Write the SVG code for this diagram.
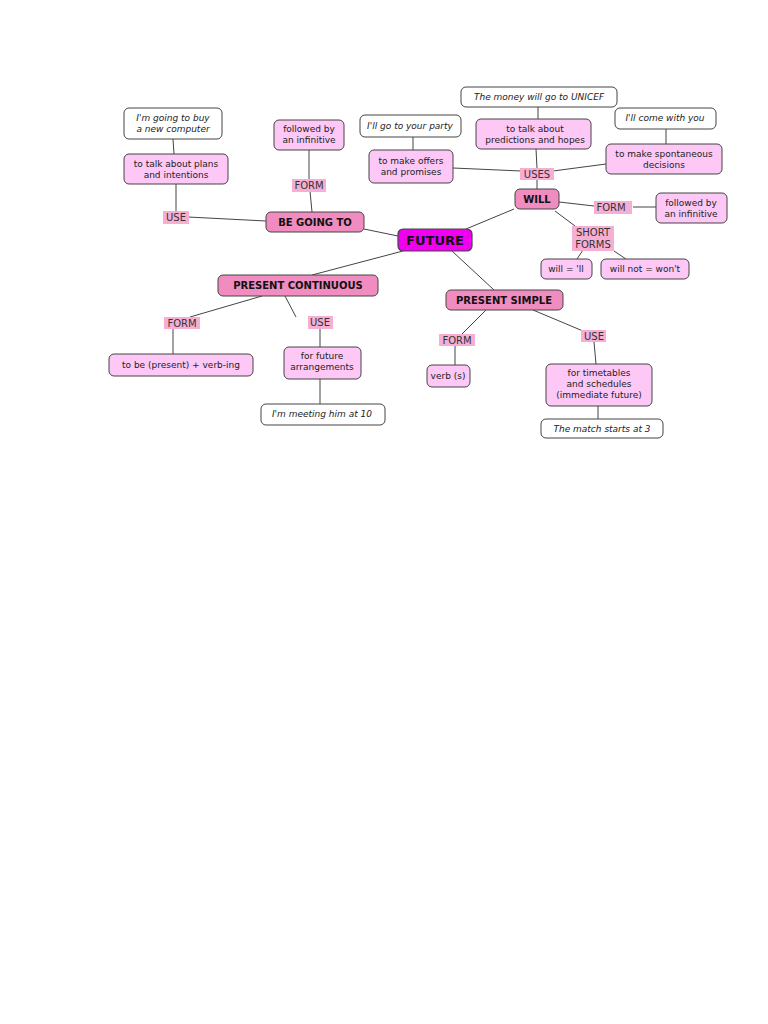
<svg xmlns="http://www.w3.org/2000/svg" width="768" height="1024" viewBox="0 0 768 1024">
<style>
text{font-family:"DejaVu Sans",Verdana,sans-serif;font-size:9px;fill:#222;text-anchor:middle}
.w{fill:#fff;stroke:#444;stroke-width:1}
.p{fill:#fdc8f6;stroke:#444;stroke-width:1}
.m{fill:#f08cc0;stroke:#444;stroke-width:1}
.f{fill:#f000f0;stroke:#444;stroke-width:1.2}
.l{fill:#f7aed3}
.i{font-style:italic}
.b{font-weight:bold;font-size:10px;fill:#111}
.lt{font-size:10px;fill:#333}
#c line{stroke:#444;stroke-width:1}
</style>
<rect width="768" height="1024" fill="#fff"/>
<g id="c">
<line x1="173" y1="139" x2="174" y2="154"/>
<line x1="176" y1="184" x2="176" y2="211"/>
<line x1="188" y1="217" x2="266" y2="221"/>
<line x1="309" y1="150" x2="309" y2="180"/>
<line x1="310" y1="191" x2="312" y2="212"/>
<line x1="364" y1="229" x2="398" y2="236"/>
<line x1="413" y1="137" x2="413" y2="150"/>
<line x1="453" y1="168" x2="521" y2="171"/>
<line x1="538" y1="107" x2="538" y2="119"/>
<line x1="536" y1="149" x2="537" y2="168"/>
<line x1="666" y1="129" x2="666" y2="144"/>
<line x1="553" y1="171" x2="606" y2="164"/>
<line x1="537" y1="180" x2="537" y2="189"/>
<line x1="466" y1="229" x2="514" y2="209"/>
<line x1="559" y1="202" x2="594" y2="206"/>
<line x1="633" y1="207" x2="656" y2="207"/>
<line x1="555" y1="211" x2="575" y2="226"/>
<line x1="583" y1="250" x2="577" y2="259"/>
<line x1="614" y1="251" x2="626" y2="259"/>
<line x1="403" y1="251" x2="312" y2="275"/>
<line x1="452" y1="251" x2="494" y2="290"/>
<line x1="262" y1="296" x2="190" y2="317"/>
<line x1="285" y1="296" x2="296" y2="317"/>
<line x1="173" y1="329" x2="173" y2="354"/>
<line x1="320" y1="329" x2="320" y2="347"/>
<line x1="320" y1="379" x2="320" y2="404"/>
<line x1="486" y1="310" x2="462" y2="334"/>
<line x1="533" y1="310" x2="583" y2="331"/>
<line x1="455" y1="346" x2="455" y2="365"/>
<line x1="594" y1="342" x2="596" y2="364"/>
<line x1="598" y1="406" x2="598" y2="419"/>
</g>
<g id="n1"><rect class="w" x="124" y="108" width="98" height="31" rx="5"/><text class="i" x="173" y="121">I'm going to buy</text><text class="i" x="173" y="132">a new computer</text></g>
<g id="n2"><rect class="p" x="124" y="154" width="104" height="30" rx="5"/><text x="176" y="167">to talk about plans</text><text x="176" y="178">and intentions</text></g>
<g id="l1"><rect class="l" x="163" y="211" width="26" height="13"/><text class="lt" x="176" y="221">USE</text></g>
<g id="n3"><rect class="p" x="274" y="120" width="70" height="30" rx="5"/><text x="309" y="132">followed by</text><text x="309" y="143">an infinitive</text></g>
<g id="l2"><rect class="l" x="292" y="179" width="34" height="13"/><text class="lt" x="309" y="189">FORM</text></g>
<g id="n4"><rect class="m" x="266" y="212" width="98" height="20" rx="5"/><text class="b" x="315" y="226">BE GOING TO</text></g>
<g id="n5"><rect class="f" x="398" y="229" width="74" height="22" rx="5"/><text class="b" x="435" y="245" style="font-size:13px">FUTURE</text></g>
<g id="n6"><rect class="w" x="360" y="115" width="101" height="22" rx="5"/><text class="i" x="410" y="129">I'll go to your party</text></g>
<g id="n7"><rect class="p" x="369" y="150" width="84" height="33" rx="5"/><text x="411" y="164">to make offers</text><text x="411" y="175">and promises</text></g>
<g id="n8"><rect class="w" x="461" y="87" width="156" height="20" rx="5"/><text class="i" x="539" y="100">The money will go to UNICEF</text></g>
<g id="n9"><rect class="p" x="476" y="119" width="115" height="30" rx="5"/><text x="535" y="132">to talk about</text><text x="535" y="143">predictions and hopes</text></g>
<g id="l3"><rect class="l" x="520" y="168" width="34" height="12"/><text class="lt" x="537" y="178">USES</text></g>
<g id="n10"><rect class="w" x="615" y="108" width="101" height="21" rx="5"/><text class="i" x="665" y="121">I'll come with you</text></g>
<g id="n11"><rect class="p" x="606" y="144" width="116" height="30" rx="5"/><text x="664" y="157">to make spontaneous</text><text x="664" y="168">decisions</text></g>
<g id="n12"><rect class="m" x="515" y="189" width="44" height="20" rx="5"/><text class="b" x="537" y="203">WILL</text></g>
<g id="l4"><rect class="l" x="594" y="201" width="38" height="13"/><text class="lt" x="611" y="211">FORM</text></g>
<g id="n13"><rect class="p" x="656" y="193" width="71" height="30" rx="5"/><text x="691" y="206">followed by</text><text x="691" y="217">an infinitive</text></g>
<g id="l5"><rect class="l" x="572" y="226" width="42" height="25"/><text class="lt" x="593" y="236">SHORT</text><text class="lt" x="593" y="248">FORMS</text></g>
<g id="n14"><rect class="p" x="541" y="259" width="51" height="20" rx="5"/><text x="566" y="272">will = 'll</text></g>
<g id="n15"><rect class="p" x="601" y="259" width="88" height="20" rx="5"/><text x="645" y="272">will not = won't</text></g>
<g id="n16"><rect class="m" x="218" y="275" width="160" height="21" rx="5"/><text class="b" x="298" y="289">PRESENT CONTINUOUS</text></g>
<g id="l6"><rect class="l" x="164" y="317" width="36" height="12"/><text class="lt" x="182" y="327">FORM</text></g>
<g id="l7"><rect class="l" x="308" y="316" width="25" height="13"/><text class="lt" x="320" y="326">USE</text></g>
<g id="n17"><rect class="p" x="109" y="354" width="144" height="22" rx="5"/><text x="181" y="368">to be (present) + verb-ing</text></g>
<g id="n18"><rect class="p" x="284" y="347" width="77" height="32" rx="5"/><text x="322" y="359">for future</text><text x="322" y="370">arrangements</text></g>
<g id="n19"><rect class="w" x="261" y="404" width="124" height="21" rx="5"/><text class="i" x="322" y="417">I'm meeting him at 10</text></g>
<g id="n20"><rect class="m" x="446" y="290" width="117" height="20" rx="5"/><text class="b" x="504" y="304">PRESENT SIMPLE</text></g>
<g id="l8"><rect class="l" x="439" y="334" width="36" height="12"/><text class="lt" x="457" y="344">FORM</text></g>
<g id="l9"><rect class="l" x="581" y="330" width="25" height="12"/><text class="lt" x="594" y="340">USE</text></g>
<g id="n21"><rect class="p" x="427" y="365" width="43" height="22" rx="5"/><text x="448" y="379">verb (s)</text></g>
<g id="n22"><rect class="p" x="546" y="364" width="106" height="42" rx="5"/><text x="599" y="376">for timetables</text><text x="599" y="387">and schedules</text><text x="599" y="398">(immediate future)</text></g>
<g id="n23"><rect class="w" x="541" y="419" width="122" height="19" rx="5"/><text class="i" x="602" y="432">The match starts at 3</text></g>
</svg>
